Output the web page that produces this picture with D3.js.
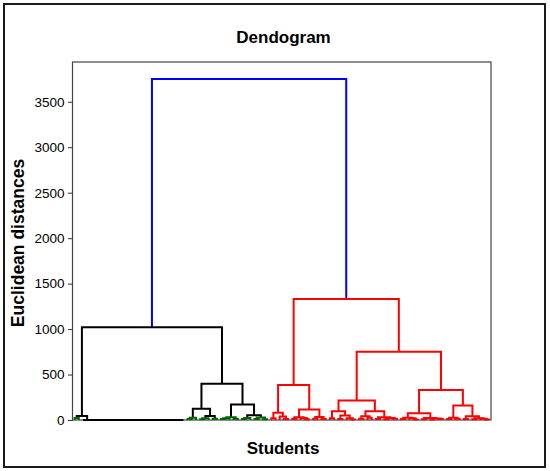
<!DOCTYPE html>
<html><head><meta charset="utf-8">
<script src="https://cdn.jsdelivr.net/npm/d3@7"></script>
<style>body{margin:0;background:#fff}svg{display:block}</style>
</head><body><svg id="chart" width="550" height="471"></svg>
<script>
// ---- data (heights in Euclidean distance units; leaves are student ids) ----
const chartTitle = "Dendogram";
const xLabel = "Students";
const yLabel = "Euclidean distances";
const yTicks = [0, 500, 1000, 1500, 2000, 2500, 3000, 3500];
const rootHeight = 3750;

// students with identical records, merged at distance 0
const zeroChain = [0, 2, [0, 3, [0, 4, [0, 5, [0, 6, [0, 7, [0, 8, [0, 9, [0, 10, [0, 11, [0, 12, [0, 13,
  [0, 14, [0, 15, [0, 16, [0, 17, [0, 18, [0, 19, [0, 20, [0, 21, [0, 22, [0, 23, [0, 24, [0, 25, 26]]]]]]]]]]]]]]]]]]]]]]]];

// each node: [height, left, right]; a number is a single student
const leftCluster = [1020,
  [45, [22, 0, 1], zeroChain],
  [400,
    [125, [25, [12, 27, 28], 29], [45, [18, [8, 30, 31], 32], [15, 33, 34]]],
    [170, [30, [20, [10, 35, 36], 37], [14, 38, 39]],
          [52, [22, [10, 40, 41], 42], [28, [12, 43, 44], [8, 45, 46]]]]
  ]
];

const rightLeft = [385,
  [80, [20, 47, 48], [38, 49, [10, 50, 51]]],
  [115, [30, [12, 52, 53], [22, 54, [8, 55, 56]]], [32, [14, 57, 58], [10, 59, 60]]]
];

const rightRight = [750,
  [215,
    [97, [20, 61, 62], [50, [10, 63, 64], [20, 65, [5, 66, 67]]]],
    [97, [40, [15, 68, 69], [25, 70, 71]], [30, [12, 72, 73], [22, [8, 74, 75], [14, 76, 77]]]]
  ],
  [330,
    [75, [25, [10, 78, 79], [18, 80, [6, 81, 82]]], [22, [8, 83, 84], [16, [6, 85, 86], [10, 87, 88]]]],
    [160, [25, [10, 89, 90], [14, 91, 92]], [40, [12, 93, 94], [20, [8, 95, 96], [15, 97, [5, 98, 99]]]]]
  ]
];

const rightCluster = [1330, rightLeft, rightRight];

// ---- build tree ----
function build(a) {
  if (!Array.isArray(a)) return { leaf: true, h: 0, id: a };
  return { leaf: false, h: a[0], children: [build(a[1]), build(a[2])] };
}
const root = build([rootHeight, leftCluster, rightCluster]);

const leaves = [];
(function collect(n) { if (n.leaf) leaves.push(n); else n.children.forEach(collect); })(root);
const N = leaves.length;
leaves.forEach((l, i) => { l.pos = 5 + 10 * i; });
(function place(n) {
  if (n.leaf) return n.pos;
  n.pos = (place(n.children[0]) + place(n.children[1])) / 2;
  return n.pos;
})(root);

// groups for colouring
function tag(n, g) { n.group = g; if (!n.leaf) n.children.forEach(c => tag(c, g)); }
tag(root.children[0], "left");
tag(root.children[1], "right");
root.group = "top";

function colorOf(n) {
  if (n.group === "top") return "#0000ff";
  if (n.group === "right") return "#ff0000";
  return (n.h > 0 && n.h < 40) ? "#006400" : "#000000";
}

const links = [];
(function walk(n) { if (!n.leaf) { links.push(n); n.children.forEach(walk); } })(root);

// ---- scales ----
const L = 72.5, R = 491, T = 62, B = 420;
const x = d3.scaleLinear().domain([0, 10 * N]).range([L, R]);
const y = d3.scaleLinear().domain([0, rootHeight * 1.05]).range([B, T]);

const svg = d3.select("#chart");
svg.append("rect").attr("width", 550).attr("height", 471).attr("fill", "#fff");

// outer border
svg.append("rect").attr("x", 4).attr("y", 4).attr("width", 541).attr("height", 463)
  .attr("fill", "none").attr("stroke", "#1a1a1a").attr("stroke-width", 2);

// plot frame
svg.append("rect").attr("x", L).attr("y", T).attr("width", R - L).attr("height", B - T)
  .attr("fill", "none").attr("stroke", "#444").attr("stroke-width", 1.2);

// links
svg.append("g").selectAll("path").data(links).join("path")
  .attr("fill", "none")
  .attr("stroke", d => colorOf(d))
  .attr("stroke-width", 2)
  .attr("d", d => {
    const [a, b] = d.children;
    return `M${x(a.pos)},${y(a.h)}V${y(d.h)}H${x(b.pos)}V${y(b.h)}`;
  });

// y axis
const yAxis = svg.append("g").attr("transform", `translate(${L},0)`)
  .call(d3.axisLeft(y).tickValues(yTicks).tickSize(4.5).tickPadding(3.5).tickFormat(d3.format("d")));
yAxis.select(".domain").remove();
yAxis.selectAll(".tick line").attr("stroke", "#333").attr("stroke-width", 1);
yAxis.selectAll(".tick text").attr("fill", "#000")
  .style("font-family", "'Liberation Sans', Arial, sans-serif").style("font-size", "13.5px");

// texts
const font = "'Liberation Sans', Arial, sans-serif";
svg.append("text").attr("x", 283.5).attr("y", 43).attr("text-anchor", "middle")
  .style("font-family", font).style("font-size", "17px").style("font-weight", "bold").text(chartTitle);
svg.append("text").attr("x", 283).attr("y", 454).attr("text-anchor", "middle")
  .style("font-family", font).style("font-size", "17px").style("font-weight", "bold").text(xLabel);
svg.append("text").attr("transform", "translate(24,243) rotate(-90)").attr("text-anchor", "middle")
  .style("font-family", font).style("font-size", "17.5px").style("font-weight", "bold").text(yLabel);
</script></body></html>
